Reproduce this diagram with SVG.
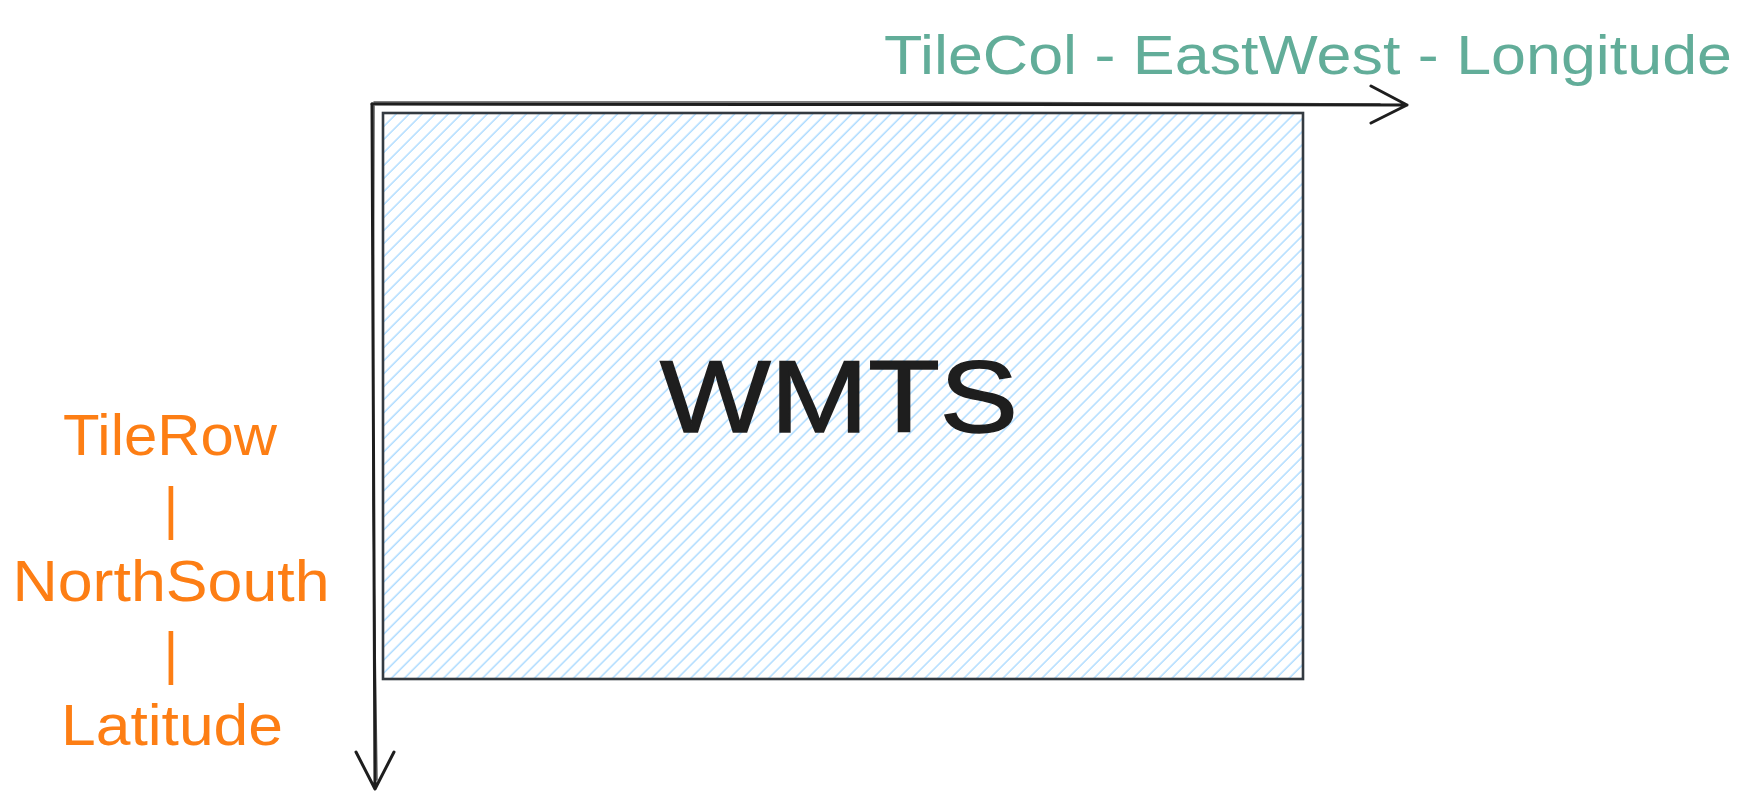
<svg xmlns="http://www.w3.org/2000/svg" width="1754" height="810" viewBox="0 0 1754 810">
  <style>
    .axis { fill: none; stroke: #1e1e1e; stroke-width: 3; stroke-linecap: round; stroke-linejoin: round; }
    .axis2 { fill: none; stroke: #1e1e1e; stroke-width: 1.5; stroke-linecap: round; opacity: 0.75; }
    .box { stroke: #343a40; stroke-width: 2.6; }
    .lbl { font-family: "Liberation Sans", Arial, sans-serif; }
    .col { fill: #62ad99; font-size: 56px; }
    .row { fill: #fd7e14; font-size: 57px; text-anchor: middle; }
    .title { fill: #1e1e1e; font-size: 102px; stroke: #1e1e1e; stroke-width: 1.5; }
  </style>
  <defs>
    <pattern id="hachure" patternUnits="userSpaceOnUse" width="9.2" height="40" patternTransform="rotate(45)">
      <line x1="2" y1="0" x2="2" y2="40" stroke="#a5d8ff" stroke-width="1.5" opacity="0.9"/>
    </pattern>
  </defs>
  <rect width="1754" height="810" fill="#ffffff"/>

  <g id="wmts">
    <rect x="383" y="113" width="920" height="566" fill="url(#hachure)" class="box"/>
    <text class="lbl title" x="660" y="432" textLength="358" lengthAdjust="spacingAndGlyphs">WMTS</text>
  </g>

  <g id="label-tilecol">
    <text class="lbl col" x="884" y="74" textLength="848" lengthAdjust="spacingAndGlyphs">TileCol - EastWest - Longitude</text>
  </g>

  <g id="label-tilerow">
    <text class="lbl row" x="170" y="455" textLength="214" lengthAdjust="spacingAndGlyphs">TileRow</text>
    <text class="lbl row" x="171" y="528">|</text>
    <text class="lbl row" x="171" y="601" textLength="317" lengthAdjust="spacingAndGlyphs">NorthSouth</text>
    <text class="lbl row" x="171" y="673">|</text>
    <text class="lbl row" x="172" y="745" textLength="222" lengthAdjust="spacingAndGlyphs">Latitude</text>
  </g>

  <g id="connectors">
    <path class="axis" d="M372 104 L1407 105 M1371 86 L1407 105 L1371 123"/>
    <path class="axis2" d="M374 102 L900 102 L1380 104"/>
    <path class="axis" d="M372 104 L375 789 M356 752 L375 789 L394 752"/>
    <path class="axis2" d="M374 106 L373 500 L377 780"/>
  </g>
</svg>
